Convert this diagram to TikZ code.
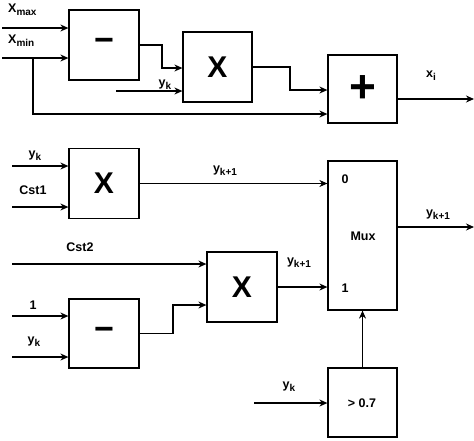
\documentclass[tikz,border=0pt]{standalone}
\usepackage{fontspec}
\setmainfont{Liberation Sans}
\usetikzlibrary{arrows.meta}
\newcommand\lsub[1]{\raisebox{-3pt}{\fontsize{10}{10}\selectfont #1}}
\begin{document}
\begin{tikzpicture}[x=1pt,y=-1pt,
  blk/.style={draw,line width=1.2pt,minimum width=70pt,minimum height=70pt,inner sep=0pt},
  arr/.style={line width=1.2pt,-{Stealth[length=8pt,width=7pt]}},
  lbl/.style={font=\fontsize{12.5}{14}\selectfont\bfseries,inner sep=0pt},
  sym/.style={font=\fontsize{30}{32}\selectfont\bfseries,inner sep=0pt}
]
\useasboundingbox (0,0) rectangle (474,440);
% blocks
\node[blk] (minus1) at (104,45) {};
\node[blk,minimum width=69pt] (mult1) at (217.5,67) {};
\node[blk,minimum width=69pt,minimum height=68pt] (plus) at (362.5,89) {};
\node[blk] (mult2) at (104,183.5) {};
\node[blk,minimum width=69pt,minimum height=149pt] (mux) at (362.5,235.5) {};
\node[blk] (mult3) at (242,287) {};
\node[blk,minimum height=69pt] (minus2) at (104,333.5) {};
\node[blk,minimum width=69pt,minimum height=69pt] (gt) at (362.5,402.5) {};
% symbols
\node[sym,font=\fontsize{34}{36}\selectfont\bfseries] (m1s) at (104,45) {−};
\node[sym] (x1s) at (217.5,67) {X};
\node[sym,font=\fontsize{46}{48}\selectfont\bfseries] (ps) at (362.5,89) {+};
\node[sym] (x2s) at (104,183.5) {X};
\node[sym] (x3s) at (242,287) {X};
\node[sym,font=\fontsize{34}{36}\selectfont\bfseries] (m2s) at (104,333.5) {−};
\node[lbl] (mux0) at (345,179) {0};
\node[lbl] (muxt) at (363,236) {Mux};
\node[lbl] (mux1) at (345,288) {1};
\node[lbl] (gtt) at (362,403) {> 0.7};
% input coordinates
\coordinate (ixmax) at (2,28);
\coordinate (ixmin) at (2,58);
\coordinate (bxmin) at (33,58);
\coordinate (iyk1) at (116,91);
\coordinate (iyk2) at (12,166);
\coordinate (icst1) at (12,207);
\coordinate (icst2) at (12,264);
\coordinate (ione) at (12,316);
\coordinate (iyk3) at (12,357);
\coordinate (iyk4) at (254,403);
\coordinate (oxi) at (474,99);
\coordinate (oyk) at (474,227);
% connectors
\draw[arr] (ixmax) -- (ixmax -| minus1.west);
\draw[arr] (ixmin) -- (ixmin -| minus1.west);
\draw[arr] (bxmin) -- (33,114) -- (plus.west |- 0,114);
\coordinate (j1) at (162,68);
\draw[arr] (minus1.east) -| (j1) -- (j1 -| mult1.west);
\draw[arr] (iyk1) -- (iyk1 -| mult1.west);
\coordinate (j2) at (290,90);
\draw[arr] (mult1.east) -| (j2) -- (j2 -| plus.west);
\draw[arr] (plus.east |- oxi) -- (oxi);
\draw[arr] (iyk2) -- (iyk2 -| mult2.west);
\draw[arr] (icst1) -- (icst1 -| mult2.west);
\draw[arr] (mult2.east) -- (mult2.east -| mux.west);
\draw[arr] (mux.east |- oyk) -- (oyk);
\draw[arr] (icst2) -- (icst2 -| mult3.west);
\draw[arr] (mult3.east) -- (mult3.east -| mux.west);
\draw[arr] (ione) -- (ione -| minus2.west);
\draw[arr] (iyk3) -- (iyk3 -| minus2.west);
\coordinate (j3) at (173,305);
\draw[arr] (minus2.east) -| (j3) -- (j3 -| mult3.west);
\draw[arr] (iyk4) -- (iyk4 -| gt.west);
\draw[arr] (gt.north) -- (mux.south);
% labels
\node[lbl,anchor=west] (lxmax) at (8,10) {X\lsub{max}};
\node[lbl,anchor=west] (lxmin) at (8,41) {X\lsub{min}};
\node[lbl] (lyk1) at (165,85) {y\lsub{k}};
\node[lbl] (lxi) at (431,76) {x\lsub{i}};
\node[lbl] (lyk2) at (35,156) {y\lsub{k}};
\node[lbl] (lcst1) at (33,190) {Cst1};
\node[lbl] (lyk3) at (225,171) {y\lsub{k+1}};
\node[lbl] (lcst2) at (80,247) {Cst2};
\node[lbl] (lyk4) at (438,215) {y\lsub{k+1}};
\node[lbl] (lyk5) at (299,263) {y\lsub{k+1}};
\node[lbl] (lone) at (33,305) {1};
\node[lbl] (lyk6) at (34,342) {y\lsub{k}};
\node[lbl] (lyk7) at (289,387) {y\lsub{k}};
\end{tikzpicture}
\end{document}
